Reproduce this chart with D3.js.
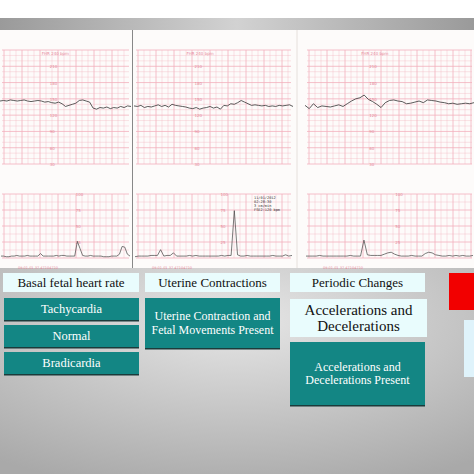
<!DOCTYPE html>
<html><head><meta charset="utf-8">
<script src="https://cdn.jsdelivr.net/npm/d3@7"></script>
<style>body{margin:0;background:#fff}svg{display:block}</style>
</head><body>
<svg width="474" height="474"></svg>
<script>
// strip panels (paper sheets)
const panels = [[0, 131], [134, 293], [305, 474]]
const fhrTicks = [30, 60, 90, 120, 150, 180, 210, 240]
const ucTicks = [0, 25, 50, 75, 100]

// fetal heart rate trace, one array per sheet (bpm)
const fhr1 = [146,147,146,148,147,146,147,148,146,145,146,147,146,144,145,143,142,144,141,136,138,140,142,147,148,146,144,133,131,134,133,135,132,134,133,136,134,137,136]
const fhr2 = [137,136,138,134,136,135,137,139,136,138,135,140,138,137,136,135,133,132,134,131,133,134,136,133,135,131,138,137,141,140,143,147,144,141,138,139,138,137,138,136,137,136,138,137,138,139,136]
const fhr3 = [138,132,141,134,137,136,135,137,139,136,141,146,150,152,157,149,145,140,134,143,147,148,146,145,141,142,144,146,143,148,147,146,144,143,141,142,140,141,142,141,143]
// uterine activity trace (0-100)
const uc1 = [3,3,2,2,3,3,4,3,3,3,4,3,3,3,3,7,3,3,3,3,3,4,3,4,4,3,3,3,3,26,15,4,3,3,4,3,3,3,3,2,2,2,3,3,3,6,18,17,6,3]
const uc2 = [2,3,3,3,3,4,4,4,13,3,4,4,8,3,3,3,3,4,3,4,3,3,3,3,3,3,3,4,3,4,4,74,5,3,3,4,3,3,3,3,3,3,3,4,3,3,3,5,3,4]
const uc3 = [3,3,3,3,4,3,3,3,3,3,3,3,3,4,3,3,3,28,5,4,4,4,4,6,8,9,6,4,3,3,3,4,3,3,3,7,9,8,5,4,3,3,4,3,4,3,4,3,3,4]

const labelsA = ['Basal fetal heart rate', 'Uterine Contractions', 'Periodic Changes']
const basal = ['Tachycardia', 'Normal', 'Bradicardia']

const svg = d3.select('svg')
const defs = svg.append('defs')
const rg = defs.append('radialGradient').attr('id', 'bg').attr('cx', '50%').attr('cy', '25%').attr('r', '85%')
rg.append('stop').attr('offset', '0%').attr('stop-color', '#e6e6e6')
rg.append('stop').attr('offset', '100%').attr('stop-color', '#a9a9a9')
const lg = defs.append('linearGradient').attr('id', 'bar').attr('x1', 0).attr('x2', 1)
lg.append('stop').attr('offset', '0%').attr('stop-color', '#9a9a9a')
lg.append('stop').attr('offset', '50%').attr('stop-color', '#d2d2d2')
lg.append('stop').attr('offset', '100%').attr('stop-color', '#9a9a9a')

svg.append('rect').attr('y', 268).attr('width', 474).attr('height', 206).attr('fill', 'url(#bg)')
svg.append('rect').attr('y', 18).attr('width', 474).attr('height', 12).attr('fill', 'url(#bar)')
svg.append('rect').attr('y', 30).attr('width', 474).attr('height', 238).attr('fill', '#fdfbfa')

const yF = d3.scaleLinear().domain([30, 240]).range([164, 50])
const yU = d3.scaleLinear().domain([0, 100]).range([258, 194])
const pink = '#f3b0bc'

panels.forEach(([x0, x1], i) => {
  const g = svg.append('g')
  // FHR grid
  d3.range(30, 241, 10).forEach(v => g.append('line').attr('x1', x0 + 2).attr('x2', x1 - 2)
    .attr('y1', yF(v)).attr('y2', yF(v)).attr('stroke', pink)
    .attr('stroke-width', v % 30 === 0 ? 0.8 : 0.35))
  d3.range(x0 + 4, x1 - 1, 6).forEach((x, k) => g.append('line').attr('x1', x).attr('x2', x)
    .attr('y1', yF(240)).attr('y2', yF(30)).attr('stroke', pink).attr('stroke-width', k % 3 === 0 ? 0.8 : 0.35))
  // UC grid
  d3.range(0, 101, 12.5).forEach(v => g.append('line').attr('x1', x0 + 2).attr('x2', x1 - 2)
    .attr('y1', yU(v)).attr('y2', yU(v)).attr('stroke', pink).attr('stroke-width', v % 25 === 0 ? 0.8 : 0.35))
  d3.range(x0 + 4, x1 - 1, 6).forEach((x, k) => g.append('line').attr('x1', x).attr('x2', x)
    .attr('y1', yU(100)).attr('y2', yU(0)).attr('stroke', pink).attr('stroke-width', k % 3 === 0 ? 0.8 : 0.35))
  const lx = x0 + (x1 - x0) * 0.38
  fhrTicks.slice(0, -1).forEach(t => g.append('text').attr('x', lx).attr('y', yF(t) + 2)
    .attr('font-size', 4).attr('fill', '#e58a9a').attr('font-family', 'DejaVu Sans').text(t))
  g.append('text').attr('x', lx - 8).attr('y', 55).attr('font-size', 4).attr('fill', '#e58a9a')
    .attr('font-family', 'DejaVu Sans').text('FHR 240 bpm')
  ucTicks.slice(1).forEach(t => g.append('text').attr('x', lx + 26).attr('y', yU(t) + 2)
    .attr('font-size', 4).attr('fill', '#e58a9a').attr('font-family', 'DejaVu Sans').text(t))
  g.append('text').attr('x', x0 + 18).attr('y', 269).attr('font-size', 3.5).attr('fill', '#e58a9a')
    .attr('font-family', 'DejaVu Sans').text('09.01.01  37  47104710')
})
svg.append('line').attr('x1', 132.5).attr('x2', 132.5).attr('y1', 30).attr('y2', 268).attr('stroke', '#888')
svg.append('line').attr('x1', 297).attr('x2', 297).attr('y1', 30).attr('y2', 268).attr('stroke', '#e6e0dc')
const info = svg.append('text').attr('x', 254).attr('y', 199).attr('font-size', 3.6).attr('font-family', 'DejaVu Sans Mono').attr('fill', '#333')
;['11/01/2012', '02:28:30', '3 cm/min', 'FSE2:120 bpm'].forEach((t, k) => info.append('tspan').attr('x', 254).attr('dy', k ? 4 : 0).text(t))

const traces = [[fhr1, uc1, 0, 131], [fhr2, uc2, 134, 293], [fhr3, uc3, 305, 474]]
traces.forEach(([f, u, x0, x1]) => {
  const xf = d3.scaleLinear().domain([0, f.length - 1]).range([x0, x1])
  const xu = d3.scaleLinear().domain([0, u.length - 1]).range([x0 + 1, x1 - 1])
  svg.append('path').datum(f).attr('fill', 'none').attr('stroke', '#333').attr('stroke-width', 0.8)
    .attr('d', d3.line().x((d, i) => xf(i)).y(d => yF(d)))
  svg.append('path').datum(u).attr('fill', 'none').attr('stroke', '#444').attr('stroke-width', 0.7)
    .attr('d', d3.line().x((d, i) => xu(i)).y(d => yU(d)))
})

// boxes
const font = 'Liberation Serif, DejaVu Serif, serif'
function box(x, y, w, h, fill, lines, color, size, shadow) {
  if (shadow) svg.append('rect').attr('x', x).attr('y', y + 1.5).attr('width', w).attr('height', h).attr('fill', '#1b3b3b')
  svg.append('rect').attr('x', x).attr('y', y).attr('width', w).attr('height', h).attr('fill', fill)
  const t = svg.append('text').attr('text-anchor', 'middle').attr('font-family', font)
    .attr('font-size', size).attr('fill', color)
  const lh = size * 1.1, y0 = y + h / 2 - (lines.length - 1) * lh / 2 + size * 0.33
  lines.forEach((l, k) => t.append('tspan').attr('x', x + w / 2).attr('y', y0 + k * lh).text(l))
}
const teal = '#138684', light = '#e9fcfd'
const hx = [[3, 136], [145, 135], [290, 135]]
labelsA.forEach((l, i) => box(hx[i][0], 273, hx[i][1], 19, light, [l], '#111', 13))
basal.forEach((l, i) => box(4, 298 + i * 27, 135, 22, teal, [l], '#fff', 12.5, true))
box(145, 298, 135, 50, teal, ['Uterine Contraction and', 'Fetal Movements Present'], '#fff', 12, true)
box(290, 299, 137, 38, light, ['Accelerations and', 'Decelerations'], '#111', 15)
box(290, 342, 135, 63, teal, ['Accelerations and', 'Decelerations Present'], '#fff', 12, true)
svg.append('rect').attr('x', 449).attr('y', 273).attr('width', 25).attr('height', 37).attr('fill', '#f20000')
svg.append('rect').attr('x', 464).attr('y', 320).attr('width', 10).attr('height', 57).attr('fill', '#dff3fb')
</script>
</body></html>
